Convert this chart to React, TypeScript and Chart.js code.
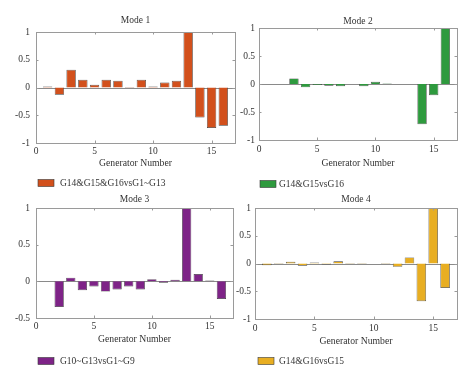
import React, { useEffect, useRef } from "react";
import { Chart, registerables } from "chart.js";

Chart.register(...registerables);

// ---- data ----
const generators = [1, 2, 3, 4, 5, 6, 7, 8, 9, 10, 11, 12, 13, 14, 15, 16];
const mode1Values = [0.02, -0.13, 0.32, 0.14, 0.05, 0.14, 0.12, -0.01, 0.14, 0.02, 0.09, 0.12, 1.0, -0.54, -0.73, -0.69];
const mode2Values = [0.0, 0.0, 0.1, -0.06, -0.02, -0.03, -0.04, 0.0, -0.04, 0.04, 0.01, 0.0, 0.0, -0.72, -0.2, 1.0];
const mode3Values = [0.0, -0.35, 0.05, -0.12, -0.07, -0.14, -0.11, -0.07, -0.11, 0.03, -0.02, 0.02, 1.0, 0.1, 0.01, -0.24];
const mode4Values = [-0.03, -0.01, 0.03, -0.04, 0.02, -0.02, 0.04, 0.01, 0.01, 0.0, -0.01, -0.06, 0.11, -0.68, 1.0, -0.44];
const modeTitles = ["Mode 1", "Mode 2", "Mode 3", "Mode 4"];
const legendLabels = ["G14&G15&G16vsG1~G13", "G14&G15vsG16", "G10~G13vsG1~G9", "G14&G16vsG15"];
const xAxisTitle = "Generator Number";
const yMins = [-1, -1, -0.5, -1];
const yMax = 1;
const xMin = 0;
const xMax = 17;

const FONT = "'Liberation Serif', 'Times New Roman', serif";
const TEXT = "#333333";

type PanelCfg = {
  values: number[];
  color: string;
  box: { left: number; top: number; width: number; height: number };
  area: { left: number; right: number; top: number; bottom: number };
  titleCenter: number;
  xLabelCenter: number;
  tickPad: number;
  yPad: number;
  legend: { boxX: number; textX: number; y: number };
};

const panels: PanelCfg[] = [
  {
    values: mode1Values,
    color: "#D2501C",
    box: { left: 0, top: 0, width: 237, height: 190 },
    area: { left: 36, right: 235, top: 32, bottom: 143 },
    titleCenter: 20,
    xLabelCenter: 163,
    tickPad: 3,
    yPad: 6,
    legend: { boxX: 38, textX: 60, y: 183 },
  },
  {
    values: mode2Values,
    color: "#2E9A3E",
    box: { left: 232, top: 0, width: 242, height: 190 },
    area: { left: 27, right: 225, top: 28, bottom: 140 },
    titleCenter: 21,
    xLabelCenter: 163,
    tickPad: 4,
    yPad: 4,
    legend: { boxX: 28, textX: 47, y: 184 },
  },
  {
    values: mode3Values,
    color: "#7E2387",
    box: { left: 0, top: 190, width: 237, height: 191 },
    area: { left: 36, right: 233, top: 18, bottom: 128 },
    titleCenter: 9,
    xLabelCenter: 149,
    tickPad: 3,
    yPad: 6,
    legend: { boxX: 38, textX: 60, y: 171 },
  },
  {
    values: mode4Values,
    color: "#E8AE22",
    box: { left: 232, top: 190, width: 242, height: 191 },
    area: { left: 23, right: 225, top: 18, bottom: 129 },
    titleCenter: 9,
    xLabelCenter: 151,
    tickPad: 4,
    yPad: 4,
    legend: { boxX: 26, textX: 47, y: 171 },
  },
];

function Panel({ idx }: { idx: number }) {
  const ref = useRef<HTMLCanvasElement | null>(null);
  const cfg = panels[idx];
  useEffect(() => {
    if (!ref.current) return;
    const titleFont = 9.5;
    const titleLH = titleFont * 1.2;
    const padTop = cfg.titleCenter - titleLH / 2;
    const padBottom = cfg.area.top - padTop - titleLH;
    const axisTitleLH = 9.7 * 1.2;
    const xScaleBottom = cfg.xLabelCenter + axisTitleLH / 2;
    const xHeight = xScaleBottom - cfg.area.bottom;
    const layoutBottom = cfg.box.height - xScaleBottom;

    const decor = {
      id: "decor" + idx,
      beforeDatasetsDraw(chart: any) {
        const { ctx, chartArea, scales } = chart;
        const y0 = scales.y.getPixelForValue(0);
        ctx.save();
        ctx.strokeStyle = "#8a8a8a";
        ctx.lineWidth = 1;
        ctx.beginPath();
        ctx.moveTo(chartArea.left, Math.round(y0) + 0.5);
        ctx.lineTo(chartArea.right, Math.round(y0) + 0.5);
        ctx.stroke();
        ctx.restore();
      },
      afterDatasetsDraw(chart: any) {
        const { ctx, chartArea, scales } = chart;
        const { left, right, top, bottom } = chartArea;
        ctx.save();
        ctx.strokeStyle = "#9a9a9a";
        ctx.lineWidth = 1;
        ctx.strokeRect(Math.round(left) + 0.5, Math.round(top) + 0.5, Math.round(right - left), Math.round(bottom - top));
        const tl = 2.5;
        ctx.beginPath();
        scales.x.ticks.forEach((t: any) => {
          const x = Math.round(scales.x.getPixelForValue(t.value)) + 0.5;
          ctx.moveTo(x, bottom);
          ctx.lineTo(x, bottom - tl);
          ctx.moveTo(x, top);
          ctx.lineTo(x, top + tl);
        });
        scales.y.ticks.forEach((t: any) => {
          const y = Math.round(scales.y.getPixelForValue(t.value)) + 0.5;
          ctx.moveTo(left, y);
          ctx.lineTo(left + tl, y);
          ctx.moveTo(right, y);
          ctx.lineTo(right - tl, y);
        });
        ctx.stroke();
        // legend
        const lg = cfg.legend;
        ctx.fillStyle = cfg.color;
        ctx.fillRect(lg.boxX, lg.y - 3.5, 16, 7);
        ctx.strokeStyle = "#3a3a3a";
        ctx.lineWidth = 0.6;
        ctx.strokeRect(lg.boxX, lg.y - 3.5, 16, 7);
        ctx.fillStyle = TEXT;
        ctx.font = `9.5px ${FONT}`;
        ctx.textBaseline = "middle";
        ctx.textAlign = "left";
        ctx.fillText(legendLabels[idx], lg.textX, lg.y);
        ctx.restore();
      },
    };

    const chart = new Chart(ref.current, {
      type: "bar",
      data: {
        datasets: [
          {
            label: legendLabels[idx],
            data: generators.map((g, i) => ({ x: g, y: cfg.values[i] })),
            backgroundColor: cfg.color,
            borderColor: "#3a3a3a",
            borderWidth: 0.7,
            barPercentage: 0.8,
            categoryPercentage: 1,
          },
        ],
      },
      options: {
        animation: false,
        responsive: false,
        maintainAspectRatio: false,
        layout: {
          padding: { left: 0, right: cfg.box.width - cfg.area.right, top: 0, bottom: layoutBottom },
        },
        plugins: {
          legend: { display: false },
          tooltip: { enabled: false },
          title: {
            display: true,
            text: modeTitles[idx],
            fullSize: false,
            color: TEXT,
            font: { family: FONT, size: titleFont, weight: "normal", lineHeight: 1.2 },
            padding: { top: padTop, bottom: padBottom },
          },
        },
        scales: {
          x: {
            type: "linear",
            min: xMin,
            max: xMax,
            offset: false,
            grid: { display: false, drawTicks: false },
            border: { display: false },
            ticks: {
              stepSize: 5,
              includeBounds: false,
              padding: cfg.tickPad,
              color: TEXT,
              font: { family: FONT, size: 9.5 },
              maxRotation: 0,
            },
            title: {
              display: true,
              text: xAxisTitle,
              color: TEXT,
              font: { family: FONT, size: 9.7, lineHeight: 1.2 },
              padding: { top: 0, bottom: 0 },
            },
            afterFit: (s: any) => {
              s.height = xHeight;
            },
          },
          y: {
            min: yMins[idx],
            max: yMax,
            grid: { display: false, drawTicks: false },
            border: { display: false },
            ticks: {
              stepSize: 0.5,
              padding: cfg.yPad,
              color: TEXT,
              font: { family: FONT, size: 9.5 },
              callback: (v: any) => String(Number(v)),
            },
            afterFit: (s: any) => {
              s.width = cfg.area.left;
            },
          },
        },
      },
      plugins: [decor],
    } as any);
    return () => chart.destroy();
  }, [idx]);

  return (
    <div
      style={{
        position: "absolute",
        left: cfg.box.left,
        top: cfg.box.top,
        width: cfg.box.width,
        height: cfg.box.height,
      }}
    >
      <canvas ref={ref} width={cfg.box.width} height={cfg.box.height} style={{ display: "block" }} />
    </div>
  );
}

export default function App() {
  return (
    <div
      style={{
        position: "fixed",
        left: 0,
        top: 0,
        width: 474,
        height: 381,
        background: "#ffffff",
        overflow: "hidden",
      }}
    >
      {panels.map((_, i) => (
        <Panel key={i} idx={i} />
      ))}
    </div>
  );
}
